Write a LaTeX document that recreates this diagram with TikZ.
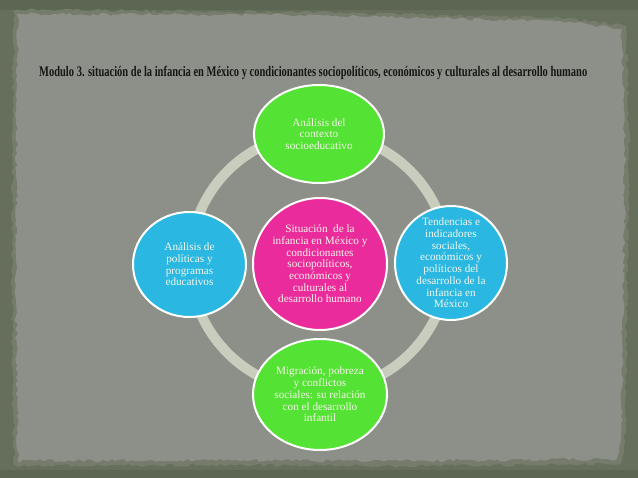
\documentclass[tikz,border=0pt]{standalone}
\usepackage{fontspec}
\setmainfont{Liberation Serif}
\usetikzlibrary{shapes.geometric,decorations.pathmorphing}
\definecolor{outerbg}{RGB}{102,111,92}
\definecolor{outerdark}{RGB}{84,94,74}
\definecolor{paper}{RGB}{141,144,136}
\definecolor{paperedge}{RGB}{118,124,108}
\definecolor{ringc}{RGB}{201,205,189}
\definecolor{lime}{RGB}{84,226,52}
\definecolor{cyanc}{RGB}{42,184,226}
\definecolor{mag}{RGB}{234,43,155}
\definecolor{txt}{RGB}{246,246,234}
\definecolor{titlec}{RGB}{22,22,20}
\pgfmathsetseed{7}
\begin{document}
\begin{tikzpicture}[x=1pt,y=-1pt,
  bubble/.style={ellipse, draw=white, line width=2pt, inner sep=0pt},
  lbl/.style={align=center, text=txt, font=\fontsize{11.2}{11.7}\selectfont, inner sep=0pt},
  rough/.style={decorate, decoration={random steps, segment length=4pt, amplitude=1.6pt}}]
\useasboundingbox (0,0) rectangle (638,478);
% background
\fill[outerbg] (0,0) rectangle (638,478);
\fill[outerdark, opacity=0.5] (0,0) rectangle (638,10);
\fill[outerdark, opacity=0.5] (0,470) rectangle (638,478);
% paper
\fill[paperedge, rough] (14,10) -- (300,12) -- (560,18) -- (626,25) -- (629,150) -- (627,300) -- (625,440) -- (621,464) -- (400,466) -- (200,465) -- (14,466) -- (12,300) -- (13,100) -- cycle;
\fill[paper, rough] (18,14) -- (300,15) -- (560,21) -- (622,29) -- (625,150) -- (623,300) -- (621,440) -- (617,459) -- (400,461) -- (200,460) -- (18,461) -- (16,300) -- (17,100) -- cycle;
% title
\node[anchor=base west, inner sep=0pt, text=titlec] (title) at (39,77)
  {\resizebox{548pt}{10.3pt}{\bfseries Modulo 3. situación de la infancia en México y condicionantes sociopolíticos, económicos y culturales al desarrollo humano}};
% ring
\coordinate (ringc) at (319,262);
\draw[ringc, line width=10pt] (ringc) circle[radius=129];
% bubbles
\node[bubble, fill=lime, minimum width=130, minimum height=98] (top) at (319,134) {};
\node[bubble, fill=cyanc, minimum width=113, minimum height=105] (left) at (189.5,264.5) {};
\node[bubble, fill=cyanc, minimum width=112, minimum height=114] (right) at (451,263) {};
\node[bubble, fill=lime, minimum width=134, minimum height=111] (bottom) at (320,394.5) {};
\node[bubble, fill=mag, minimum width=134, minimum height=132] (center) at (320,264) {};
% labels
\node[lbl] (toptxt) at (top) {Análisis del\\contexto\\socioeducativo};
\node[lbl] (lefttxt) at (left) {Análisis de\\políticas y\\programas\\educativos};
\node[lbl] (righttxt) at (right) {Tendencias e\\indicadores\\sociales,\\económicos y\\políticos del\\desarrollo de la\\infancia en\\México};
\node[lbl] (bottomtxt) at (bottom) {Migración, pobreza\\y conflictos\\sociales: su relación\\con el desarrollo\\infantil};
\node[lbl] (centertxt) at (center) {Situación~ de la\\infancia en México y\\condicionantes\\sociopolíticos,\\económicos y\\culturales al\\desarrollo humano};
\end{tikzpicture}
\end{document}
